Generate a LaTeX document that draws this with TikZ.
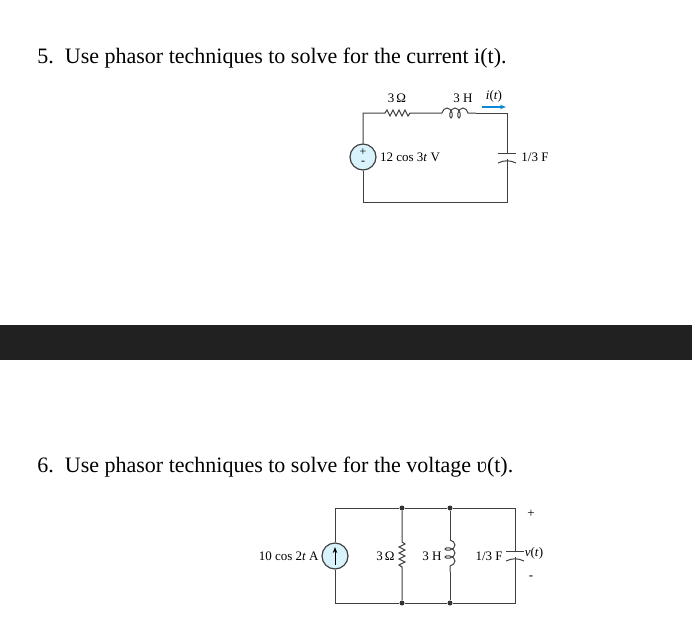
\documentclass[tikz,border=0pt]{standalone}
\usepackage{fontspec}
\setmainfont{Liberation Serif}
\usetikzlibrary{arrows.meta,decorations.pathmorphing}
\begin{document}
\begin{tikzpicture}[x=0.5pt,y=-0.5pt,
  wire/.style={draw=black!75,line width=0.5pt},
  coilh/.style={draw=black!75,line width=0.5pt,decorate,decoration={coil,aspect=0.6,segment length=4pt,amplitude=2.5pt,pre length=0pt,post length=0pt}},
  src/.style={circle,draw=black!75,fill=cyan!15,minimum size=13pt,inner sep=0pt,line width=0.6pt},
  lbl/.style={font=\fontsize{6.5}{7}\selectfont,inner sep=1pt},
  hd/.style={font=\fontsize{11}{13}\selectfont,anchor=west,inner sep=0pt},
  dot/.style={circle,fill=black!80,inner sep=0pt,minimum size=2.5pt}]
\useasboundingbox (0,0) rectangle (692,628);
\fill[white] (0,0) rectangle (692,628);
\fill[black!87] (0,325) rectangle (692,360);
\node[hd] (h5) at (37,58) {5.\ \ Use phasor techniques to solve for the current i(t).};
\node[hd] (h6) at (37,467) {6.\ \ Use phasor techniques to solve for the voltage \char"028B(t).};
% circuit 1
\coordinate (a1) at (363,113); \coordinate (b1) at (507,113);
\coordinate (c1) at (507,202); \coordinate (d1) at (363,202);
\node[src] (s1) at (363,157) {};
\node[font=\fontsize{6}{6}\selectfont] (sp) at (363,152) {+};
\node[font=\fontsize{6}{6}\selectfont] (sm) at (363,163) {-};
\draw[wire] (s1.north) -- (a1) -- (385,113)
  -- (387,110) -- (390,116) -- (393,110) -- (396,116) -- (399,110) -- (402,116) -- (405,110) -- (408,116) -- (410,113)
  -- (442,113);
\draw[coilh] (442,113) -- (476,113);
\draw[wire] (476,113) -- (b1) -- (507,153);
\draw[wire] (498,153) -- (516,153);
\draw[wire] (498,163) to[bend left=25] (516,163);
\draw[wire] (507,159) -- (c1) -- (d1) -- (s1.south);
\node[lbl] (r1l) at (397,98) {3\,Ω};
\node[lbl] (l1l) at (463,98) {3 H};
\node[lbl] (il) at (494,96) {\textit{i}(\textit{t})};
\coordinate (ia) at (482,107); \coordinate (ib) at (506,107);
\draw[cyan!70!blue,-{Stealth[length=3pt]},line width=0.6pt] (ia) -- (ib);
\node[lbl] (vsl) at (410,157) {12 cos 3\textit{t} V};
\node[lbl] (cl) at (535,157) {1/3 F};
% circuit 2
\coordinate (a2) at (335,508); \coordinate (e2) at (515,508);
\coordinate (f2) at (515,603); \coordinate (g2) at (335,603);
\node[dot] (t1) at (402,508) {}; \node[dot] (t2) at (450,508) {};
\node[dot] (u1) at (402,603) {}; \node[dot] (u2) at (450,603) {};
\node[src] (s2) at (335,556) {};
\draw[-{Stealth[length=3pt]},line width=0.5pt] (335,565) -- (335,547);
\draw[wire] (s2.north) -- (a2) -- (t1) -- (t2) -- (e2) -- (515,551);
\draw[wire] (506,551) -- (524,551);
\draw[wire] (506,561) to[bend left=25] (524,561);
\draw[wire] (515,557) -- (f2) -- (u2) -- (u1) -- (g2) -- (s2.south);
\draw[wire] (t1) -- (402,542) -- (405,544) -- (399,547) -- (405,550) -- (399,553) -- (405,556) -- (399,559) -- (405,562) -- (399,565) -- (402,567) -- (u1);
\draw[wire] (t2) -- (450,540);
\draw[coilh] (450,540) -- (450,572);
\draw[wire] (450,572) -- (u2);
\node[lbl,anchor=east] (isl) at (321,556) {10 cos 2\textit{t} A};
\node[lbl,anchor=east] (r2l) at (397,556) {3\,Ω};
\node[lbl,anchor=east] (l2l) at (444,556) {3 H};
\node[lbl,anchor=east] (c2l) at (505,556) {1/3 F};
\node[lbl] (vp) at (531,514) {+};
\node[lbl] (vl) at (534,553) {\textit{v}(\textit{t})};
\node[lbl] (vm) at (531,578) {-};
\end{tikzpicture}
\end{document}
